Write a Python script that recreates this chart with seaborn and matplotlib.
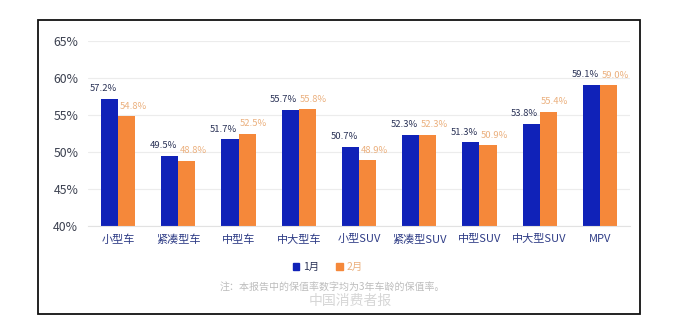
import matplotlib
matplotlib.use("Agg")
import matplotlib.pyplot as plt
from matplotlib.patches import Rectangle
import seaborn as sns
import pandas as pd

categories = ["小型车", "紧凑型车", "中型车", "中大型车", "小型SUV", "紧凑型SUV", "中型SUV", "中大型SUV", "MPV"]
jan = [57.2, 49.5, 51.7, 55.7, 50.7, 52.3, 51.3, 53.8, 59.1]
feb = [54.8, 48.8, 52.5, 55.8, 48.9, 52.3, 50.9, 55.4, 59.0]
series = ["1月", "2月"]
yticks = [40, 45, 50, 55, 60, 65]
note = "注：本报告中的保值率数字均为3年车龄的保值率。"
watermark = "中国消费者报"

BLUE = "#1022B8"
ORANGE = "#F5883A"
BLUE_TXT = "#2B3357"
ORANGE_TXT = "#EBB07E"

df = pd.DataFrame({
    "cat": categories * 2,
    "val": jan + feb,
    "month": [series[0]] * len(categories) + [series[1]] * len(categories),
})

sns.set_theme(style="white")
plt.rcParams["font.family"] = ["Noto Sans CJK SC", "DejaVu Sans"]

fig = plt.figure(figsize=(6.73, 3.23), dpi=100)
ax = fig.add_axes([88 / 673, 1 - 226 / 323, (630 - 88) / 673, (226 - 41) / 323])

sns.barplot(data=df, x="cat", y="val", hue="month", palette=[BLUE, ORANGE],
            width=0.57, ax=ax, legend=False, saturation=1, linewidth=0)

ax.set_ylim(40, 65)
ax.set_xlim(-0.5, len(categories) - 0.5)
ax.set_yticks(yticks)
ax.set_yticklabels([f"{t}%" for t in yticks], fontsize=8.8, color="#3C4150")
ax.set_xticks(range(len(categories)))
ax.set_xticklabels(categories, fontsize=8, color="#2E3C86")
ax.tick_params(axis="both", length=0)
ax.tick_params(axis="y", pad=7)
ax.tick_params(axis="x", pad=6)
ax.set_xlabel("")
ax.set_ylabel("")
ax.grid(axis="y", color="#ECECEC", linewidth=0.8)
ax.set_axisbelow(True)
for s in ["left", "right", "top"]:
    ax.spines[s].set_visible(False)
ax.spines["bottom"].set_color("#E2E2E2")
ax.spines["bottom"].set_linewidth(0.8)

c_jan, c_feb = ax.containers[0], ax.containers[1]
for bar, v in zip(c_jan, jan):
    ax.annotate(f"{v}%", (bar.get_x() + bar.get_width(), bar.get_height()),
                xytext=(-1, 4), textcoords="offset points", ha="right", va="bottom",
                fontsize=6.8, color=BLUE_TXT)
for bar, v in zip(c_feb, feb):
    ax.annotate(f"{v}%", (bar.get_x(), bar.get_height()),
                xytext=(1, 4), textcoords="offset points", ha="left", va="bottom",
                fontsize=6.8, color=ORANGE_TXT)

# legend
handles = [Rectangle((0, 0), 1, 1, color=BLUE), Rectangle((0, 0), 1, 1, color=ORANGE)]
leg = fig.legend(handles, series, loc="center", bbox_to_anchor=(328 / 673, 1 - 267 / 323),
                 ncol=2, frameon=False, fontsize=7.5, handlelength=0.6, handleheight=0.6,
                 columnspacing=1.6, handletextpad=0.4)
for t, c in zip(leg.get_texts(), [BLUE_TXT, ORANGE_TXT]):
    t.set_color(c)

fig.text(220 / 673, 1 - 287 / 323, note, fontsize=7.2, color="#BDBDBD", ha="left", va="center")
fig.text(350 / 673, 1 - 301 / 323, watermark, fontsize=10, color="#D6D6D6", ha="center", va="center")

fig.patches.append(Rectangle((38 / 673, 1 - 314 / 323), (640 - 38) / 673, (314 - 20) / 323,
                             transform=fig.transFigure, fill=False, edgecolor="#111111",
                             linewidth=1.3, figure=fig))

fig.savefig("out.png", dpi=100)
